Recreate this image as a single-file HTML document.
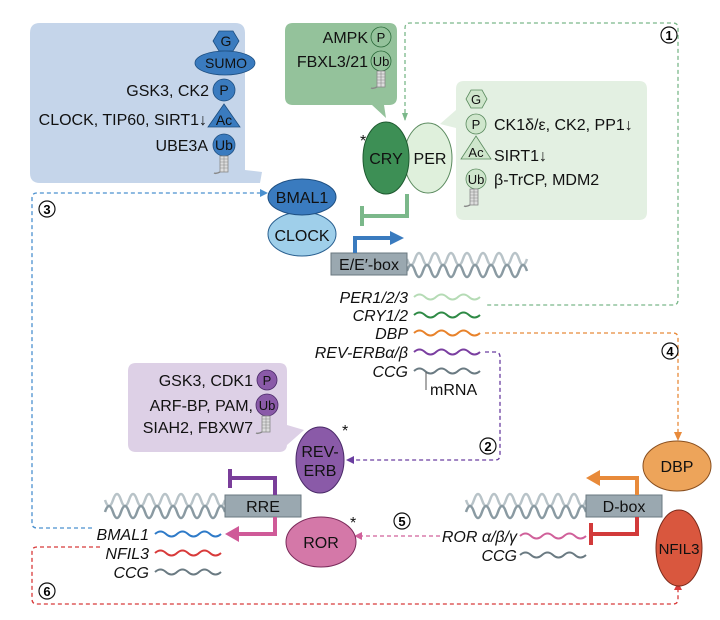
<!DOCTYPE html>
<html><head><meta charset="utf-8"><style>
body{margin:0;background:#fff}
svg{display:block;font-family:"Liberation Sans",sans-serif}
.t{font-size:16px;fill:#111}
.i{font-size:16px;font-style:italic;fill:#111}
.s{font-size:13px;fill:#111}
</style></head><body>
<svg width="720" height="620" viewBox="0 0 720 620" xmlns="http://www.w3.org/2000/svg">
<defs>
<g id="prot"><rect x="-4" y="0" width="8" height="16" fill="#ddd" stroke="#888" stroke-width="0.8"/><path d="M-4 3h8M-4 6h8M-4 9h8M-4 12h8M0 0v16" stroke="#888" stroke-width="0.6"/><path d="M-4 16 q-4 2 -6 1" stroke="#888" fill="none" stroke-width="1.5"/></g>
</defs>
<path d="M40 23 H235 Q245 23 245 33 V170 L262 172 L260 183 H40 Q30 183 30 173 V33 Q30 23 40 23Z" fill="#c5d5ea"/>
<path d="M293 23 H389 Q397 23 397 31 V97 Q397 105 389 105 H384 L386 118 L372 105 H293 Q285 105 285 97 V31 Q285 23 293 23Z" fill="#94c29b"/>
<path d="M464 81 H639 Q647 81 647 89 V212 Q647 220 639 220 H464 Q456 220 456 212 V128 L440 124 L456 110 V89 Q456 81 464 81Z" fill="#e3f0e2"/>
<path d="M136 363 H279 Q287 363 287 371 V444 Q287 452 279 452 H136 Q128 452 128 444 V371 Q128 363 136 363Z" fill="#ddd0e6"/>
<path d="M287 425 L304 430 L287 445Z" fill="#ddd0e6"/>

<path d="M405 120 V28 Q405 23 410 23 H673 Q678 23 678 28 V300 Q678 305 673 305 H485" fill="none" stroke="#7bb88a" stroke-width="1.3" stroke-dasharray="4,3"/>
<path d="M402 113 L405 121 L408 113" fill="#7bb88a"/>
<path d="M485 333 H673 Q678 333 678 338 V436" fill="none" stroke="#e88a3a" stroke-width="1.3" stroke-dasharray="4,3"/>
<path d="M674 432 L678 441 L682 432Z" fill="#e88a3a"/>
<path d="M485 352 H495 Q500 352 500 357 V455 Q500 460 495 460 H352" fill="none" stroke="#6a3ea0" stroke-width="1.3" stroke-dasharray="4,3"/>
<path d="M354 456 L346 460 L354 464Z" fill="#6a3ea0"/>
<path d="M440 536 H362" fill="none" stroke="#d0609a" stroke-width="1.3" stroke-dasharray="4,3"/>
<path d="M362 532 L354 536 L362 540Z" fill="#d0609a"/>
<path d="M92 528 H37 Q32 528 32 523 V198 Q32 193 37 193 H262" fill="none" stroke="#4a90cf" stroke-width="1.3" stroke-dasharray="4,3"/>
<path d="M260 189 L268 193 L260 197Z" fill="#4a90cf"/>
<path d="M100 547 H37 Q32 547 32 552 V599 Q32 604 37 604 H673 Q678 604 678 599 V588" fill="none" stroke="#d83a3a" stroke-width="1.3" stroke-dasharray="4,3"/>
<path d="M674 590 L678 582 L682 590Z" fill="#d83a3a"/>

<g font-size="13" font-weight="bold" text-anchor="middle">
<circle cx="669" cy="35" r="8" fill="#fff" stroke="#111" stroke-width="1.2"/><text x="669" y="40">1</text>
<circle cx="488" cy="446" r="8" fill="#fff" stroke="#111" stroke-width="1.2"/><text x="488" y="451">2</text>
<circle cx="47" cy="209" r="8" fill="#fff" stroke="#111" stroke-width="1.2"/><text x="47" y="214">3</text>
<circle cx="670" cy="351" r="8" fill="#fff" stroke="#111" stroke-width="1.2"/><text x="670" y="356">4</text>
<circle cx="402" cy="521" r="8" fill="#fff" stroke="#111" stroke-width="1.2"/><text x="402" y="526">5</text>
<circle cx="47" cy="591" r="8" fill="#fff" stroke="#111" stroke-width="1.2"/><text x="47" y="596">6</text>
</g>

<g fill="#3a7bbf" stroke="#1d4e80" stroke-width="0.8">
<path d="M219 31 L233 31 L239 41 L233 51 L219 51 L213 41Z"/>
<ellipse cx="225" cy="63" rx="30" ry="12"/>
<circle cx="224" cy="90" r="11"/>
<path d="M224 104 L240 127 L208 127Z"/>
<circle cx="224" cy="145" r="11"/>
</g>
<g class="s" text-anchor="middle" style="font-size:14px"><text x="226" y="46">G</text><text x="226" y="68">SUMO</text><text x="224" y="95">P</text><text x="224" y="125">Ac</text><text x="224" y="150">Ub</text></g>
<g class="t" text-anchor="end"><text x="209" y="96">GSK3, CK2</text><text x="207" y="125">CLOCK, TIP60, SIRT1↓</text><text x="208" y="151">UBE3A</text></g>
<use href="#prot" x="224" y="156"/>

<g fill="#94c29b" stroke="#2b6a3a" stroke-width="0.8"><circle cx="381" cy="37" r="10"/><circle cx="381" cy="61" r="10"/></g>
<g class="s" text-anchor="middle"><text x="381" y="42">P</text><text x="381" y="66">Ub</text></g>
<g class="t" text-anchor="end"><text x="368" y="43">AMPK</text><text x="368" y="67">FBXL3/21</text></g>
<use href="#prot" x="381" y="71"/>

<g fill="#cfe6cc" stroke="#5a8a5e" stroke-width="0.8">
<path d="M471 90 L482 90 L487 99 L482 108 L471 108 L466 99Z"/>
<circle cx="476" cy="124" r="10"/>
<path d="M476 136 L491 159 L461 159Z"/>
<circle cx="476" cy="179" r="10"/>
</g>
<g class="s" text-anchor="middle"><text x="476" y="104">G</text><text x="476" y="129">P</text><text x="476" y="157">Ac</text><text x="476" y="184">Ub</text></g>
<g class="t"><text x="494" y="130">CK1δ/ε, CK2, PP1↓</text><text x="494" y="161">SIRT1↓</text><text x="494" y="185">β-TrCP, MDM2</text></g>
<use href="#prot" x="474" y="189"/>

<g fill="#8a5aa8" stroke="#4a2a68" stroke-width="0.8"><circle cx="267" cy="380" r="10"/><circle cx="267" cy="405" r="11"/></g>
<g class="s" text-anchor="middle"><text x="267" y="385">P</text><text x="267" y="410">Ub</text></g>
<g class="t" text-anchor="end"><text x="253" y="386">GSK3, CDK1</text><text x="253" y="411">ARF-BP, PAM,</text><text x="253" y="433">SIAH2, FBXW7</text></g>
<use href="#prot" x="266" y="416"/>

<ellipse cx="302" cy="234" rx="34" ry="22" fill="#9fcfea" stroke="#2a6090" stroke-width="1"/>
<ellipse cx="302" cy="197" rx="34" ry="18" fill="#3a7bbf" stroke="#1d4e80" stroke-width="1"/>
<text class="t" x="302" y="203" text-anchor="middle">BMAL1</text>
<text class="t" x="302" y="241" text-anchor="middle">CLOCK</text>
<ellipse cx="428" cy="158" rx="24" ry="35" fill="#dff0dc" stroke="#5a8a5e" stroke-width="1"/>
<ellipse cx="386" cy="158" rx="23" ry="36" fill="#3d8f55" stroke="#1e5a30" stroke-width="1"/>
<text class="t" x="386" y="164" text-anchor="middle">CRY</text>
<text class="t" x="430" y="164" text-anchor="middle">PER</text>
<text class="t" x="360" y="146">*</text>
<ellipse cx="320" cy="460" rx="24" ry="33" fill="#8a5aa8" stroke="#4a2a68" stroke-width="1"/>
<text class="t" x="320" y="457" text-anchor="middle">REV-</text><text class="t" x="320" y="476" text-anchor="middle">ERB</text>
<text class="t" x="342" y="436">*</text>
<ellipse cx="321" cy="542" rx="35" ry="25" fill="#d478a8" stroke="#7a2a5a" stroke-width="1"/>
<text class="t" x="321" y="548" text-anchor="middle">ROR</text>
<text class="t" x="350" y="528">*</text>
<ellipse cx="677" cy="466" rx="34" ry="25" fill="#eda45a" stroke="#8a5020" stroke-width="1"/>
<text class="t" x="677" y="472" text-anchor="middle">DBP</text>
<ellipse cx="679" cy="548" rx="23" ry="38" fill="#d9573e" stroke="#7a2a1a" stroke-width="1"/>
<text class="t" x="679" y="554" text-anchor="middle" style="font-size:15px">NFIL3</text>

<g fill="none" stroke-width="2.5">
<path d="M407 259 q4 12 8 0 t8 0 t8 0 t8 0 t8 0 t8 0 t8 0 t8 0 t8 0 t8 0 t8 0 t8 0 t8 0 t8 0 t8 0" stroke="#b8c3c8"/>
<path d="M407 271 q4 -12 8 0 t8 0 t8 0 t8 0 t8 0 t8 0 t8 0 t8 0 t8 0 t8 0 t8 0 t8 0 t8 0 t8 0 t8 0" stroke="#8a9aa2"/>
<path d="M105 500 q4 12 8 0 t8 0 t8 0 t8 0 t8 0 t8 0 t8 0 t8 0 t8 0 t8 0 t8 0 t8 0 t8 0 t8 0 t8 0" stroke="#b8c3c8"/>
<path d="M105 512 q4 -12 8 0 t8 0 t8 0 t8 0 t8 0 t8 0 t8 0 t8 0 t8 0 t8 0 t8 0 t8 0 t8 0 t8 0 t8 0" stroke="#8a9aa2"/>
<path d="M466 500 q4 12 8 0 t8 0 t8 0 t8 0 t8 0 t8 0 t8 0 t8 0 t8 0 t8 0 t8 0 t8 0 t8 0 t8 0 t8 0" stroke="#b8c3c8"/>
<path d="M466 512 q4 -12 8 0 t8 0 t8 0 t8 0 t8 0 t8 0 t8 0 t8 0 t8 0 t8 0 t8 0 t8 0 t8 0 t8 0 t8 0" stroke="#8a9aa2"/>
</g>
<rect x="331" y="253" width="76" height="22" fill="#9aa8b0" stroke="#6a7880"/>
<text class="t" x="369" y="270" text-anchor="middle">E/E′-box</text>
<rect x="225" y="495" width="76" height="22" fill="#9aa8b0" stroke="#6a7880"/>
<text class="t" x="263" y="512" text-anchor="middle">RRE</text>
<rect x="586" y="495" width="76" height="22" fill="#9aa8b0" stroke="#6a7880"/>
<text class="t" x="624" y="512" text-anchor="middle">D-box</text>

<path d="M407 194 V216 H362 M362 206 V226" fill="none" stroke="#7bb88a" stroke-width="4"/>
<path d="M355 253 V238 H392" fill="none" stroke="#3a7bbf" stroke-width="4"/>
<path d="M390 231 L404 238 L390 245Z" fill="#3a7bbf"/>
<path d="M275 495 V478 H230 M230 469 V488" fill="none" stroke="#7a3e9a" stroke-width="4"/>
<path d="M275 517 V534 H236" fill="none" stroke="#cf5a98" stroke-width="4"/>
<path d="M239 526 L225 534 L239 542Z" fill="#cf5a98"/>
<path d="M637 495 V478 H598" fill="none" stroke="#e88a3a" stroke-width="4"/>
<path d="M600 470 L586 478 L600 486Z" fill="#e88a3a"/>
<path d="M637 517 V534 H591 M591 523 V545" fill="none" stroke="#d23a3a" stroke-width="4"/>

<g fill="none" stroke-width="2">
<path d="M414 297 q5.5 -5 11 0 t11 0 t11 0 t11 0 t11 0 t11 0" stroke="#b5dbb5"/>
<path d="M414 315 q5.5 -5 11 0 t11 0 t11 0 t11 0 t11 0 t11 0" stroke="#2e8a45"/>
<path d="M414 333 q5.5 -5 11 0 t11 0 t11 0 t11 0 t11 0 t11 0" stroke="#e8822a"/>
<path d="M414 352 q5.5 -5 11 0 t11 0 t11 0 t11 0 t11 0 t11 0" stroke="#7a3ea0"/>
<path d="M414 371 q5.5 -5 11 0 t11 0 t11 0 t11 0 t11 0 t11 0" stroke="#6a7a82"/>
<path d="M155 534 q5.5 -5 11 0 t11 0 t11 0 t11 0 t11 0 t11 0" stroke="#2e7ac8"/>
<path d="M155 553 q5.5 -5 11 0 t11 0 t11 0 t11 0 t11 0 t11 0" stroke="#d83a3a"/>
<path d="M155 572 q5.5 -5 11 0 t11 0 t11 0 t11 0 t11 0 t11 0" stroke="#6a7a82"/>
<path d="M520 536 q5.5 -5 11 0 t11 0 t11 0 t11 0 t11 0 t11 0" stroke="#d0609a"/>
<path d="M520 555 q5.5 -5 11 0 t11 0 t11 0 t11 0 t11 0 t11 0" stroke="#6a7a82"/>
</g>
<path d="M426 372 V390" stroke="#555" stroke-width="1"/>
<text class="t" x="430" y="395">mRNA</text>
<g class="i" text-anchor="end">
<text x="408" y="303">PER1/2/3</text><text x="408" y="321">CRY1/2</text><text x="408" y="339">DBP</text><text x="408" y="358">REV-ERBα/β</text><text x="408" y="377">CCG</text>
<text x="149" y="540">BMAL1</text><text x="149" y="559">NFIL3</text><text x="149" y="578">CCG</text>
<text x="517" y="542">ROR α/β/γ</text><text x="517" y="561">CCG</text>
</g>
</svg>
</body></html>
